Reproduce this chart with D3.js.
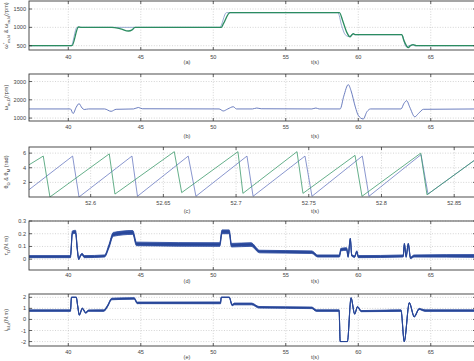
<!DOCTYPE html>
<html><head><meta charset="utf-8">
<script src="https://cdn.jsdelivr.net/npm/d3@7"></script>
<style>body{margin:0;background:#fff;overflow:hidden}svg{display:block;font-family:"Liberation Sans",Arial,sans-serif}</style>
</head><body><svg id="c" width="474" height="361"></svg>
<script>
// ---------- DATA ----------
const timeTicks = [40, 45, 50, 55, 60, 65];
const zoomTicks = [52.6, 52.65, 52.7, 52.75, 52.8, 52.85];
const zoomTickLabels = ["52.6", "52.65", "52.7", "52.75", "52.8", "52.85"];

// (a) speed reference and measured speed (rpm)
const speedRefT = [37.3, 40.2, 40.6, 50.45, 50.9, 58.6, 58.85, 59.1, 59.35, 59.5, 59.65, 59.8, 63.0, 63.3, 63.5, 63.7, 63.9, 68.3];
const speedRefV = [500, 500, 1000, 1000, 1400, 1400, 1050, 800, 750, 780, 810, 800, 800, 470, 500, 520, 500, 500];
const speedT = [37.3, 40.25, 40.7, 40.9, 43.0, 43.6, 44.15, 44.4, 44.6, 50.55, 50.7, 51.15, 58.7, 58.95, 59.2, 59.43, 59.55, 59.66, 59.8, 63.0, 63.15, 63.45, 63.6, 63.79, 64.0, 68.3];
const speedV = [500, 500, 1010, 1000, 1000, 960, 900, 930, 1000, 1000, 1100, 1400, 1400, 1150, 870, 740, 790, 830, 800, 800, 640, 450, 500, 530, 500, 500];

// (b) speed (rpm)
const spdT = [37.3, 40.15, 40.33, 40.55, 40.74, 40.95, 41.1, 41.4, 42.5, 42.95, 43.3, 44.5, 44.83, 45.1, 50.4, 50.69, 51.0, 51.38, 51.6, 52.7, 53.0, 53.3, 56.8, 57.08, 57.3, 58.75, 59.0, 59.31, 59.5, 59.8, 60.0, 60.34, 60.6, 60.85, 62.95, 63.15, 63.34, 63.55, 63.9, 64.15, 64.5, 68.3];
const spdV = [1500, 1500, 1250, 1600, 1790, 1550, 1470, 1500, 1500, 1370, 1480, 1500, 1580, 1510, 1500, 1390, 1500, 1620, 1500, 1500, 1550, 1510, 1500, 1550, 1500, 1500, 2200, 2830, 2500, 1600, 1150, 950, 1350, 1500, 1500, 1800, 1950, 1600, 1070, 1250, 1480, 1500];

// (c) angles (rad), zoomed time
const angGreenT = [52.5576, 52.5674, 52.5720, 52.6128, 52.6167, 52.6575, 52.6626, 52.7013, 52.7047, 52.7419, 52.7460, 52.7818, 52.7866, 52.8270, 52.8313, 52.8700];
const angGreenV = [4.4, 5.6, 0.0, 5.9, 0.4, 6.2, 0.6, 6.2, 0.5, 6.2, 0.5, 5.7, 0.1, 6.0, 0.3, 5.9];
const angBlueT = [52.5576, 52.5876, 52.5920, 52.6284, 52.6322, 52.6671, 52.6724, 52.7075, 52.7117, 52.7474, 52.7522, 52.7868, 52.7914, 52.8272, 52.8320, 52.8700];
const angBlueV = [1.0, 5.6, 0.0, 5.6, 0.1, 5.6, 0.1, 5.6, 0.1, 5.6, 0.1, 5.6, 0.1, 5.8, 0.4, 5.9];

// (d) load torque (N.m): centre and noise half-width
const tauT = [37.3, 40.15, 40.28, 40.5, 40.62, 40.72, 40.85, 40.95, 41.1, 42.5, 42.8, 43.1, 44.45, 44.7, 50.45, 50.6, 51.1, 51.25, 52.6, 53.2, 56.8, 57.2, 58.7, 58.8, 59.2, 59.3, 59.45, 59.55, 59.75, 59.9, 60.0, 63.1, 63.18, 63.3, 63.45, 63.6, 63.85, 68.3];
const tauV = [0.02, 0.02, 0.21, 0.215, 0.08, 0.0, 0.03, 0.04, 0.02, 0.025, 0.1, 0.195, 0.21, 0.12, 0.115, 0.215, 0.215, 0.11, 0.115, 0.06, 0.055, 0.025, 0.025, 0.075, 0.08, 0.02, 0.16, 0.03, 0.02, 0.06, 0.02, 0.025, 0.12, 0.02, 0.12, 0.01, 0.025, 0.025];
const tauW = [0.008, 0.008, 0.012, 0.012, 0.008, 0.005, 0.005, 0.006, 0.008, 0.008, 0.012, 0.015, 0.015, 0.014, 0.014, 0.015, 0.015, 0.014, 0.014, 0.01, 0.01, 0.008, 0.008, 0.01, 0.01, 0.006, 0.006, 0.006, 0.006, 0.006, 0.008, 0.008, 0.006, 0.006, 0.006, 0.006, 0.008, 0.011];

// (e) motor torque command (N.m): centre and noise half-width
const cmdT = [37.3, 40.15, 40.22, 40.55, 40.65, 40.76, 40.97, 41.2, 41.4, 42.45, 42.7, 43.0, 44.55, 44.75, 50.5, 50.55, 51.1, 51.3, 51.45, 52.65, 53.15, 56.8, 57.1, 58.68, 58.75, 59.25, 59.5, 59.75, 59.95, 60.2, 62.95, 63.17, 63.52, 63.86, 64.2, 64.6, 68.3];
const cmdV = [0.8, 0.8, 2.0, 2.0, 1.2, 0.4, 1.0, 0.6, 0.8, 0.8, 1.2, 1.85, 1.9, 1.5, 1.5, 2.0, 2.0, 1.3, 1.4, 1.4, 1.1, 1.05, 0.8, 0.8, -2.0, -2.0, 1.95, 0.5, 1.15, 0.75, 0.8, -2.0, 1.5, 0.25, 0.95, 0.8, 0.8];
const cmdW = [0.07, 0.07, 0.02, 0.02, 0.03, 0.03, 0.03, 0.04, 0.06, 0.07, 0.07, 0.07, 0.07, 0.07, 0.08, 0.02, 0.02, 0.06, 0.08, 0.08, 0.07, 0.07, 0.07, 0.07, 0.0, 0.0, 0.02, 0.03, 0.03, 0.05, 0.07, 0.02, 0.03, 0.03, 0.05, 0.07, 0.07];

// ---------- DRAW ----------
const svg = d3.select("#c");
const X0 = 29, X1 = 476;
const zip = (t, v, w) => t.map((d, i) => ({t: d, v: v[i], w: w ? w[i] : 0}));

const panels = [
  {id: "a", top: 1, bottom: 50, ydom: [383, 1718], yticks: [500, 1000, 1500], xdom: [37.29, 68.12], xticks: timeTicks,
   xlab: timeTicks.map(String), tickY: 58.5, capY: 64,
   ylabel: [["ω",""],["*","sup"],["m,ld","sub"],[" & ω",""],["m,ld","sub"],["(rpm)",""]],
   series: [
     {data: zip(speedRefT, speedRefV), color: "#7f97c6", width: 0.8, curve: d3.curveMonotoneX},
     {data: zip(speedT, speedV), color: "#2b8c60", width: 1.3, curve: d3.curveMonotoneX}
   ]},
  {id: "b", top: 74, bottom: 121, ydom: [840, 3412], yticks: [1000, 2000, 3000], xdom: [37.29, 68.12], xticks: timeTicks,
   xlab: timeTicks.map(String), tickY: 128.5, capY: 138,
   ylabel: [["ω",""],["m,Ω","sub"],["(rpm)",""]],
   series: [{data: zip(spdT, spdV), color: "#5b6fb8", width: 0.9, curve: d3.curveMonotoneX}]},
  {id: "c", top: 147, bottom: 197, ydom: [0, 6.84], yticks: [2, 4, 6], xdom: [52.5576, 52.865], xticks: zoomTicks,
   xlab: zoomTickLabels, tickY: 204.5, capY: 212.5,
   ylabel: [["θ",""],["Ω","sub"],[" & θ",""],["M","sub"],[" (rad)",""]],
   series: [
     {data: zip(angBlueT, angBlueV), color: "#6b7bc2", width: 0.8, curve: d3.curveLinear},
     {data: zip(angGreenT, angGreenV), color: "#3d9a6c", width: 0.8, curve: d3.curveLinear}
   ]},
  {id: "d", top: 221, bottom: 270, ydom: [-0.085, 0.3], yticks: [0, 0.1, 0.2, 0.3], xdom: [37.29, 68.12], xticks: timeTicks,
   xlab: timeTicks.map(String), tickY: 277, capY: 283,
   ylabel: [["τ",""],["Ω","sub"],["(N.m)",""]],
   band: {data: zip(tauT, tauV, tauW), color: "#2f4ea2"}},
  {id: "e", top: 294, bottom: 346, ydom: [-2.4, 2.3], yticks: [-2, -1, 0, 1, 2], xdom: [37.29, 68.12], xticks: timeTicks,
   xlab: timeTicks.map(String), tickY: 353.5, capY: 359.3,
   ylabel: [["i",""],["M,d","sub"],["(N.m)",""]],
   band: {data: zip(cmdT, cmdV, cmdW), color: "#2f4ea2"}}
];

const fs = 5.6;
panels.forEach(p => {
  const x = d3.scaleLinear().domain(p.xdom).range([X0, X1]);
  const y = d3.scaleLinear().domain(p.ydom).range([p.bottom, p.top]);
  const g = svg.append("g");
  const clipId = "clip" + p.id;
  svg.append("clipPath").attr("id", clipId).append("rect")
    .attr("x", X0).attr("y", p.top).attr("width", X1 - X0).attr("height", p.bottom - p.top);

  // grid
  const grid = g.append("g").attr("stroke", "#b8b8b8").attr("stroke-width", 0.6).attr("stroke-dasharray", "1,1.6");
  grid.selectAll(".vx").data(p.xticks).join("line")
    .attr("x1", d => x(d)).attr("x2", d => x(d)).attr("y1", p.top).attr("y2", p.bottom);
  grid.selectAll(".hy").data(p.yticks).join("line")
    .attr("x1", X0).attr("x2", X1).attr("y1", d => y(d)).attr("y2", d => y(d));

  const plot = g.append("g").attr("clip-path", `url(#${clipId})`);
  if (p.band) {
    const area = d3.area().x(d => x(d.t)).y0(d => y(d.v - d.w)).y1(d => y(d.v + d.w)).curve(d3.curveMonotoneX);
    plot.append("path").datum(p.band.data).attr("d", area).attr("fill", p.band.color).attr("stroke", p.band.color).attr("stroke-width", 0.9);
    const line = d3.line().x(d => x(d.t)).y(d => y(d.v)).curve(d3.curveMonotoneX);
    plot.append("path").datum(p.band.data).attr("d", line).attr("fill", "none").attr("stroke", "#274596").attr("stroke-width", 1.1);
  }
  (p.series || []).forEach(s => {
    const line = d3.line().x(d => x(d.t)).y(d => y(d.v)).curve(s.curve);
    plot.append("path").datum(s.data).attr("d", line).attr("fill", "none")
      .attr("stroke", s.color).attr("stroke-width", s.width).attr("stroke-linejoin", "round");
  });

  // border
  g.append("rect").attr("x", X0).attr("y", p.top).attr("width", X1 - X0).attr("height", p.bottom - p.top)
    .attr("fill", "none").attr("stroke", "#3a3a3a").attr("stroke-width", 0.9);

  // inward ticks on all sides
  const tk = g.append("g").attr("stroke", "#3a3a3a").attr("stroke-width", 0.8);
  const tl = 3;
  p.xticks.forEach(d => {
    tk.append("line").attr("x1", x(d)).attr("x2", x(d)).attr("y1", p.bottom).attr("y2", p.bottom - tl);
    tk.append("line").attr("x1", x(d)).attr("x2", x(d)).attr("y1", p.top).attr("y2", p.top + tl);
  });
  p.yticks.forEach(d => {
    tk.append("line").attr("x1", X0).attr("x2", X0 + tl).attr("y1", y(d)).attr("y2", y(d));
    tk.append("line").attr("x1", X1).attr("x2", X1 - tl).attr("y1", y(d)).attr("y2", y(d));
  });

  // tick labels
  g.selectAll(".xl").data(p.xticks).join("text")
    .attr("x", d => x(d)).attr("y", p.tickY).attr("text-anchor", "middle")
    .attr("font-size", fs).attr("fill", "#444").text((d, i) => p.xlab[i]);
  g.selectAll(".yl").data(p.yticks).join("text")
    .attr("x", 26).attr("y", d => y(d) + 2).attr("text-anchor", "end")
    .attr("font-size", fs).attr("fill", "#444").text(d => String(d));

  // captions
  g.append("text").attr("x", 187).attr("y", p.capY).attr("text-anchor", "middle").attr("font-size", fs).attr("fill", "#444").text(`(${p.id})`);
  g.append("text").attr("x", 315).attr("y", p.capY).attr("text-anchor", "middle").attr("font-size", fs).attr("fill", "#444").text("t(s)");

  // y label
  const cy = (p.top + p.bottom) / 2;
  const yl = g.append("text").attr("transform", `translate(8,${cy}) rotate(-90)`).attr("text-anchor", "middle")
    .attr("font-size", fs).attr("fill", "#444");
  let shift = 0;
  p.ylabel.forEach(([txt, kind]) => {
    const target = kind === "sub" ? 1.6 : kind === "sup" ? -1.8 : 0;
    const ts = yl.append("tspan").attr("dy", target - shift).text(txt);
    if (kind) ts.attr("font-size", fs * 0.75);
    shift = target;
  });
});
</script></body></html>
